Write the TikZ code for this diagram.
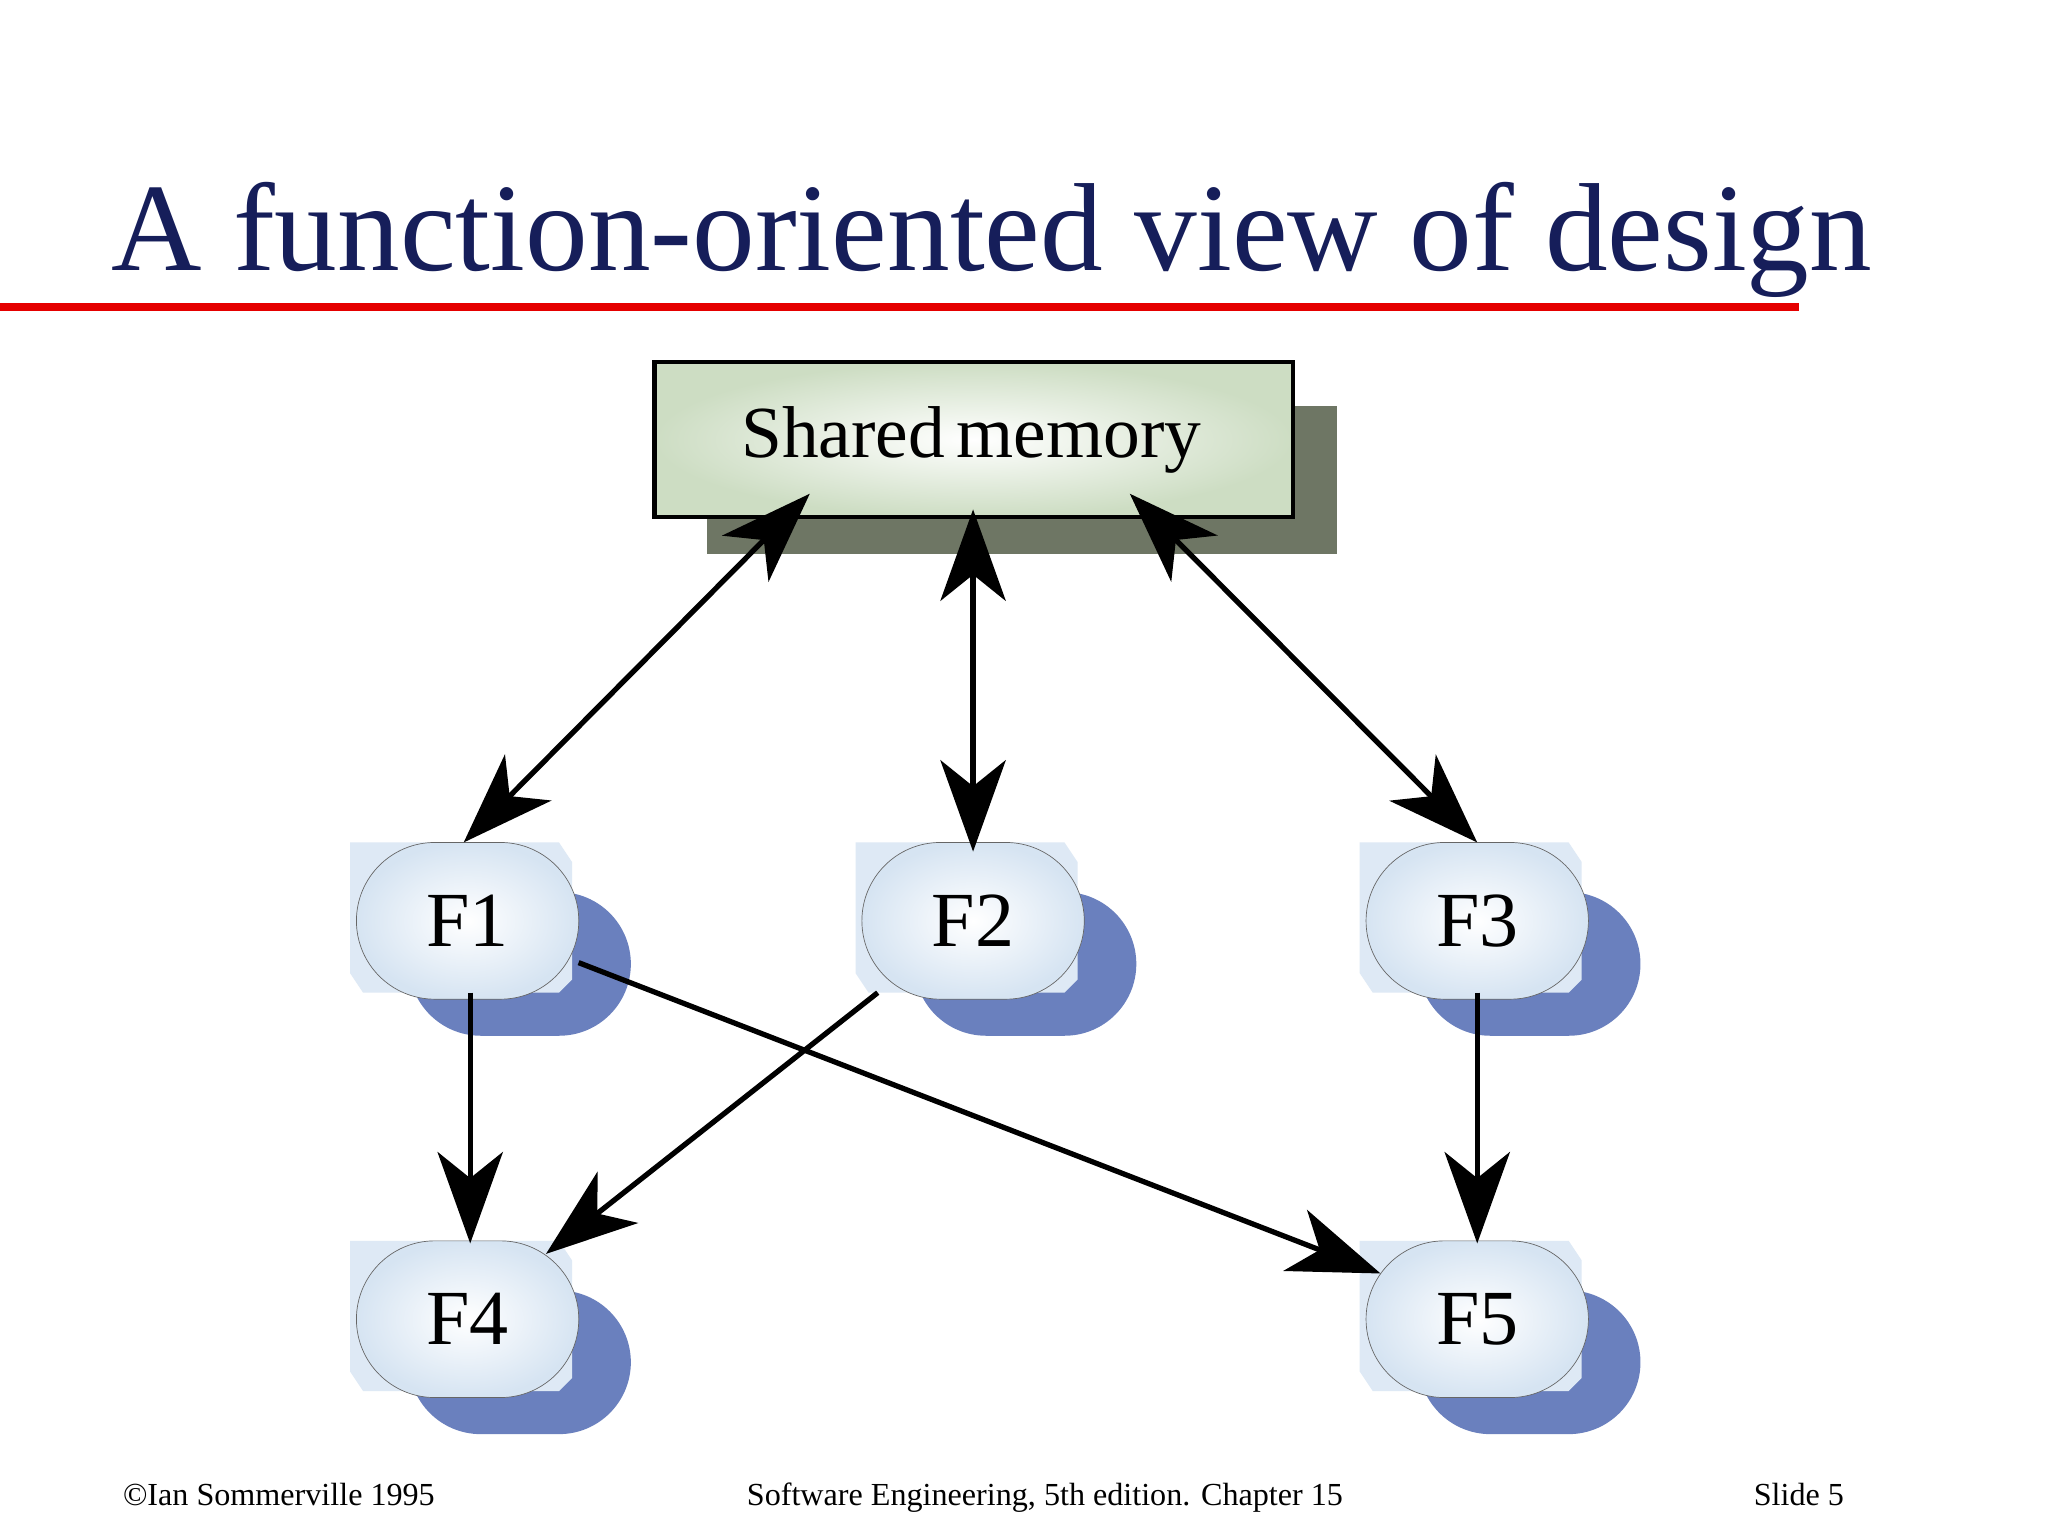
\documentclass[tikz,border=0pt]{standalone}
\usepackage{fontspec}
\setmainfont{Liberation Serif}
\usetikzlibrary{arrows.meta,shapes.misc}
\definecolor{navy}{RGB}{22,30,90}
\definecolor{shblue}{RGB}{106,128,190}
\definecolor{fblue}{RGB}{214,228,242}
\definecolor{smgreen}{RGB}{205,221,195}
\definecolor{smshadow}{RGB}{110,118,100}
\begin{document}
\begin{tikzpicture}[x=0.02cm,y=-0.02cm,
  fn/.style={rounded rectangle,minimum width=3.64cm,minimum height=2.4cm,draw=black!60,line width=0.3pt,inner color=white,outer color=fblue,font=\fontsize{34}{34}\selectfont},
  fsh/.style={rounded rectangle,minimum width=3.4cm,minimum height=2.2cm,fill=shblue,inner sep=0},
  arr/.style={line width=2.3pt,-{Stealth[length=1.4cm,width=1.0cm,inset=0.4cm]}},
  darr/.style={arr,{Stealth[length=1.4cm,width=1.0cm,inset=0.4cm]}-{Stealth[length=1.4cm,width=1.0cm,inset=0.4cm]}},
  foot/.style={font=\fontsize{14}{14}\selectfont,anchor=base}]
\useasboundingbox (0,0) rectangle (1568,1177);
\fill[white] (0,0) rectangle (1568,1177);
\node[anchor=base west,text=navy,inner sep=0,font=\fontsize{54.6}{54.6}\selectfont] (title) at (85,207) {A function-oriented view of design};
\fill[red!90!black] (0,232) rectangle (1377,238);
% shared memory
\fill[smshadow] (541,311) rectangle (1024,424);
\node[draw=black,line width=1.8pt,minimum width=9.78cm,minimum height=2.38cm,inner color=white,outer color=smgreen,font=\fontsize{32}{32}\selectfont] (sm) at (745.5,336.5) {\kern-2pt Shared\kern-3pt{} memory};
% F nodes
\foreach \n/\x/\y in {F1/358/705,F2/745/705,F3/1131/705,F4/358/1010,F5/1131/1010}{
  \node[fsh] (\n s) at (\x+40,\y+33) {};
  \fill[fblue!80] (\x-90,\y-60) -- (\x+70,\y-60) -- (\x+80,\y-45) -- (\x+80,\y+45) -- (\x+70,\y+55) -- (\x-80,\y+55) -- (\x-90,\y+40) -- cycle;
  \node[fn] (\n) at (\x,\y) {\n};
}
\coordinate (s1) at (620,378); \coordinate (t1) at (355,645);
\coordinate (s2) at (745,390); \coordinate (t2) at (745,652);
\coordinate (s3) at (865,378); \coordinate (t3) at (1131,645);
\coordinate (a1) at (360,760); \coordinate (b1) at (360,952);
\coordinate (a2) at (672,760); \coordinate (b2) at (418,960);
\coordinate (a3) at (443,737); \coordinate (b3) at (1057,975);
\coordinate (a4) at (1131,760); \coordinate (b4) at (1131,952);
\draw[darr] (s1) -- (t1);
\draw[darr] (s2) -- (t2);
\draw[darr] (s3) -- (t3);
\draw[arr] (a1) -- (b1);
\draw[arr] (a2) -- (b2);
\draw[arr] (a3) -- (b3);
\draw[arr] (a4) -- (b4);
\node[foot,anchor=base west] (c) at (88,1153) {©Ian Sommerville 1995};
\node[foot] (m) at (800,1153) {Software Engineering, 5th edition. Chapter 15};
\node[foot,anchor=base east] (s) at (1418,1153) {Slide 5};
\end{tikzpicture}
\end{document}
